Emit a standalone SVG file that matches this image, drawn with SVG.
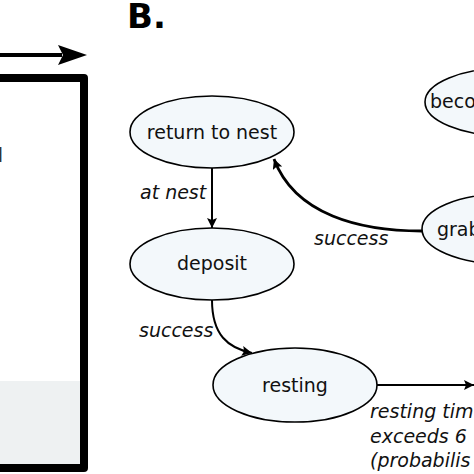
<svg xmlns="http://www.w3.org/2000/svg" width="474" height="474" viewBox="0 0 474 474">
<style>
.node ellipse{fill:#f3f8fb;stroke:#000;stroke-width:1.6}
.lbl{font-family:"DejaVu Sans",sans-serif;font-size:19px;fill:#111}
.edge{font-family:"DejaVu Sans",sans-serif;font-size:19px;font-style:italic;fill:#111}
.conn path,.conn line{fill:none;stroke:#000;stroke-width:2}
</style>
<defs>
<marker id="ah" viewBox="0 0 10 10" refX="10" refY="5" markerUnits="userSpaceOnUse" markerWidth="13" markerHeight="10" orient="auto">
<path d="M0,0 L10,5 L0,10 L2,5 z" fill="#000"/>
</marker>
</defs>
<rect width="474" height="474" fill="#fff"/>
<g id="panelA">
<rect x="0" y="381" width="80" height="84" fill="#eef1f2"/>
<path d="M-10,78 L84,78 L84,468 L-10,468" fill="none" stroke="#000" stroke-width="8" stroke-linejoin="round"/>
<line x1="0" y1="55" x2="62" y2="55" stroke="#000" stroke-width="4"/>
<path d="M87,55 L58,45 L63,55 L58,65 z" fill="#000"/>
<text x="-9" y="162" font-family="DejaVu Sans,sans-serif" font-size="19" fill="#333">d</text>
</g>
<text x="127" y="28" font-family="DejaVu Sans,sans-serif" font-size="34" font-weight="bold" fill="#000">B.</text>
<g class="conn" id="connectors">
<line x1="212" y1="168" x2="212" y2="228" marker-end="url(#ah)"/>
<path d="M212,300 C212,335 228,348 252,353" marker-end="url(#ah)"/>
<path d="M422,231 C360,231 295,215 274,159" marker-end="url(#ah)" style="stroke-width:2.8"/>
<line x1="377" y1="385" x2="474" y2="385" marker-end="url(#ah)"/>
</g>
<g id="edge-labels">
<text class="edge" x="140" y="199">at nest</text>
<text class="edge" x="139" y="337">success</text>
<text class="edge" x="314" y="245">success</text>
<text class="edge" x="370" y="418">resting tim</text>
<text class="edge" x="370" y="443">exceeds 6</text>
<text class="edge" x="370" y="467">(probabilis</text>
</g>
<g class="node" id="return-to-nest">
<ellipse cx="212" cy="132" rx="82" ry="36"/>
<text class="lbl" x="212" y="139" text-anchor="middle">return to nest</text>
</g>
<g class="node" id="deposit">
<ellipse cx="212" cy="264" rx="82" ry="36"/>
<text class="lbl" x="212" y="270" text-anchor="middle">deposit</text>
</g>
<g class="node" id="resting">
<ellipse cx="295" cy="385" rx="82" ry="37"/>
<text class="lbl" x="295" y="392" text-anchor="middle">resting</text>
</g>
<g class="node" id="become">
<ellipse cx="507" cy="102" rx="82" ry="34"/>
<text class="lbl" x="430" y="108">beco</text>
</g>
<g class="node" id="grab">
<ellipse cx="504" cy="229" rx="82" ry="35"/>
<text class="lbl" x="437" y="236">grab</text>
</g>
</svg>
